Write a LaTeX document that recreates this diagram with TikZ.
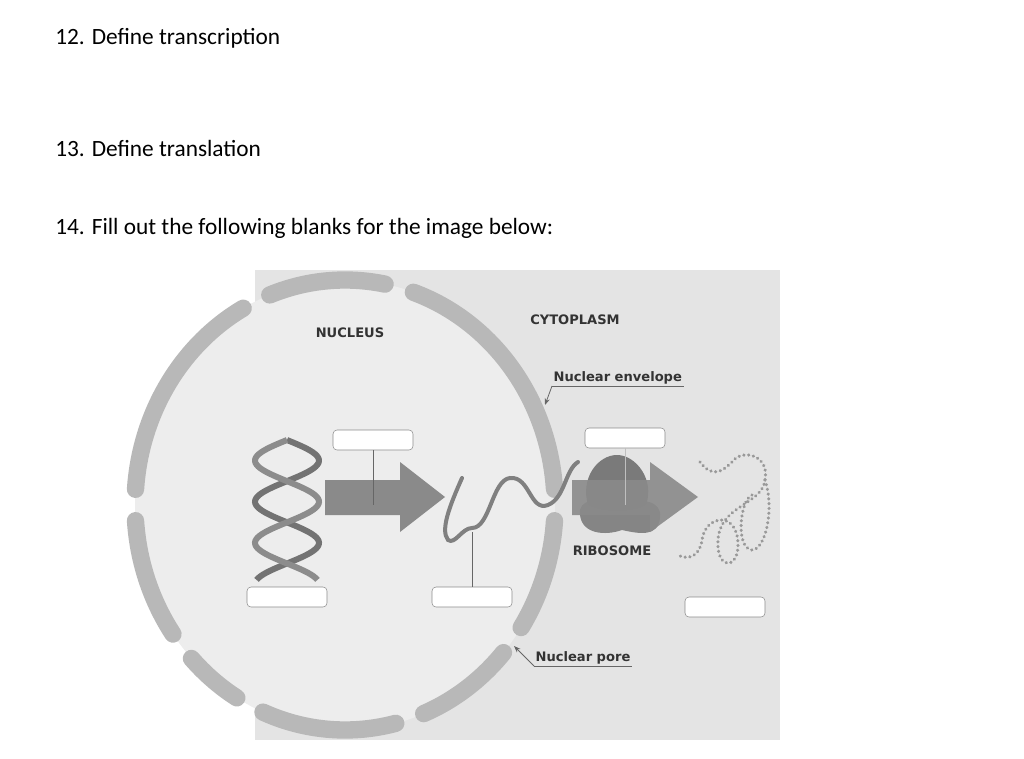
\documentclass[tikz,border=0pt]{standalone}
\usepackage{fontspec}
\setmainfont{Carlito}
\newfontfamily\lab{DejaVu Sans}
\usetikzlibrary{arrows.meta}
\definecolor{cyto}{HTML}{E4E4E4}
\definecolor{nuc}{HTML}{EDEDED}
\definecolor{env}{HTML}{B8B8B8}
\definecolor{arr}{HTML}{8A8A8A}
\begin{document}
\begin{tikzpicture}[x=0.75pt,y=-0.75pt,
  q/.style={anchor=west,font=\fontsize{17.5}{20}\selectfont,inner sep=0},
  lbl/.style={font=\lab\bfseries\fontsize{9.8}{11}\selectfont,text=black!80,inner sep=1},
  blank/.style={draw=black!45,fill=white,rounded corners=3pt,minimum width=60pt,minimum height=15pt,inner sep=0},
  seg/.style={draw=env,line width=13pt,line cap=round},
  lead/.style={draw=black!60,line width=0.6pt}]
\useasboundingbox (0,0) rectangle (1024,759);
\node[q] (q12) at (55,38) {12. Define transcription};
\node[q] (q13) at (55,148) {13. Define translation};
\node[q] (q14) at (55,228) {14. Fill out the following blanks for the image below:};
% backgrounds
\fill[cyto] (255,270) rectangle (780,740);
\fill[nuc] (345,505) ellipse [x radius=210,y radius=225];
% envelope
\foreach \a/\b in {4/71,79/111,119/176,184/215,223/239,247/284,292/319,327/356}
  \draw[seg] plot[domain=\a:\b,smooth,samples=30,variable=\t] ({345+210*cos(\t)},{505-225*sin(\t)});
% DNA
\draw[black!55,line width=4.5pt] plot[domain=0:3.4*pi,smooth,samples=80,variable=\t] ({287+32*sin(\t r)},{440+\t*13.1});
\draw[black!45,line width=4.5pt] plot[domain=0:3.4*pi,smooth,samples=80,variable=\t] ({287-32*sin(\t r)},{440+\t*13.1});
% arrows
\fill[arr] (325,480) -- (400,480) -- (400,462) -- (445,497) -- (400,532) -- (400,515) -- (325,515) -- cycle;
% mRNA
\draw[black!50,line width=3pt,line cap=round] (462,478) .. controls (450,505) and (440,530) .. (448,540)
  .. controls (455,545) and (462,528) .. (472,528) .. controls (490,528) and (492,480) .. (510,478)
  .. controls (530,476) and (530,512) .. (548,505) .. controls (565,498) and (565,470) .. (578,462);
% ribosome
\fill[black!48] (580,515) .. controls (577,498) and (600,498) .. (620,503) .. controls (640,498) and (663,500) .. (660,518)
  .. controls (658,537) and (640,534) .. (622,530) .. controls (605,536) and (582,534) .. (580,515) -- cycle;
\fill[black!52] (588,505) .. controls (580,478) and (598,455) .. (617,455) .. controls (636,455) and (655,480) .. (646,505)
  .. controls (632,513) and (603,513) .. (588,505) -- cycle;
\fill[arr,opacity=0.9] (572,480) -- (650,480) -- (650,462) -- (698,497) -- (650,532) -- (650,515) -- (572,515) -- cycle;
% protein
\draw[black!40,line width=2.5pt,dash pattern=on 0.1pt off 3.5pt,line cap=round]
  (700,462) .. controls (712,478) and (722,472) .. (732,462) .. controls (742,448) and (770,455) .. (765,480)
  .. controls (762,505) and (720,505) .. (718,540) .. controls (716,570) and (738,570) .. (738,545)
  .. controls (738,510) and (705,515) .. (702,540) .. controls (700,555) and (690,560) .. (680,556);
\draw[black!40,line width=2.5pt,dash pattern=on 0.1pt off 3.5pt,line cap=round]
  (765,480) .. controls (775,510) and (765,550) .. (752,550) .. controls (735,548) and (740,500) .. (752,495);
% labels
\node[lbl] (nucl) at (350,333) {NUCLEUS};
\node[lbl] (cyt) at (575,320) {CYTOPLASM};
\node[lbl,anchor=south west] (ne) at (552,386) {Nuclear envelope};
\coordinate (netip) at (545,405);
\draw[lead] (ne.south east) -- (ne.south west);
\draw[lead,-{Stealth[length=5pt]}] (ne.south west) -- (netip);
\node[lbl] (ribo) at (612,551) {RIBOSOME};
\node[lbl,anchor=south west] (np) at (534,666) {Nuclear pore};
\coordinate (nptip) at (514,646);
\draw[lead] (np.south east) -- (np.south west);
\draw[lead,-{Stealth[length=5pt]}] (np.south west) -- (nptip);
% blanks
\node[blank] (b1) at (373,440) {};
\node[blank] (b2) at (625,438) {};
\node[blank] (b3) at (287,597) {};
\node[blank] (b4) at (472,597) {};
\node[blank] (b5) at (725,607) {};
\coordinate (t1) at (373,505);
\coordinate (t2) at (625,505);
\coordinate (t4) at (472,532);
\draw[black!60,line width=0.5pt] (b1.south) -- (t1);
\draw[black!25,line width=0.6pt] (b2.south) -- (t2);
\draw[black!60,line width=0.5pt] (b4.north) -- (t4);
\end{tikzpicture}
\end{document}
